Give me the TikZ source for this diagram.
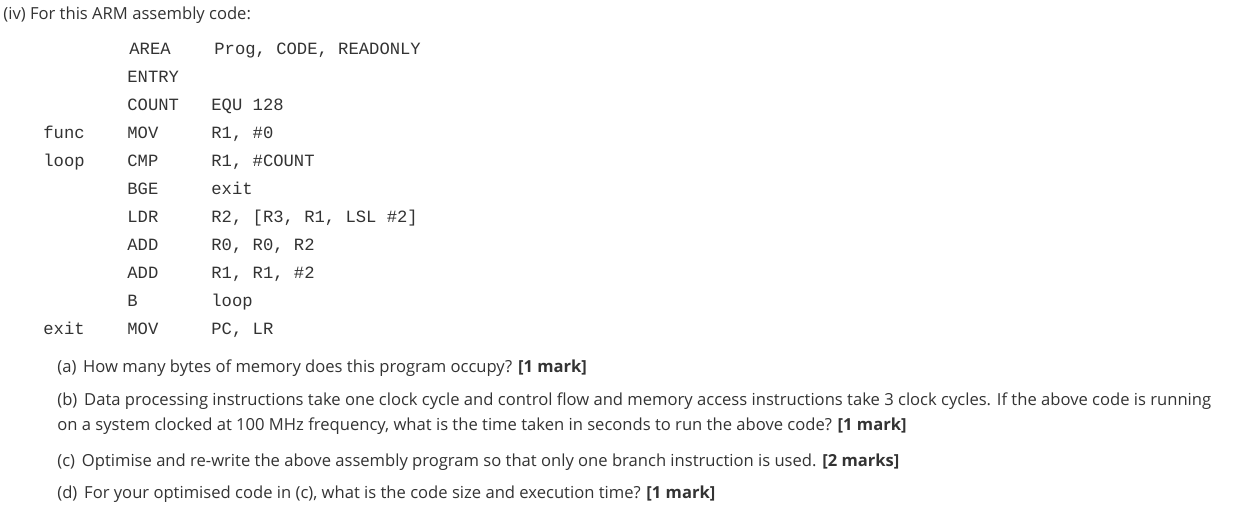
\documentclass[tikz,border=0pt]{standalone}
\usepackage{fontspec}
\setmainfont{Open Sans}
\setmonofont{Liberation Mono}
\definecolor{txt}{HTML}{333333}
\begin{document}
\begin{tikzpicture}[x=0.5pt,y=-0.5pt,
  body/.style={anchor=base west,inner sep=0pt,text=txt,font=\fontsize{8.3pt}{10pt}\selectfont},
  code/.style={anchor=base west,inner sep=0pt,text=txt,font=\ttfamily\fontsize{8.6pt}{9pt}\selectfont}]
\useasboundingbox[fill=white] (0,0) rectangle (1249,512);
\node[body] (t) at (3,20) {(iv) For this ARM assembly code:};
% code rows
\node[code] (m1) at (129,55) {AREA};  \node[code] (o1) at (214,55) {Prog, CODE, READONLY};
\node[code] (m2) at (127,83) {ENTRY};
\node[code] (m3) at (127,111) {COUNT}; \node[code] (o3) at (211,111) {EQU 128};
\node[code] (l4) at (43,139) {func}; \node[code] (m4) at (127,139) {MOV}; \node[code] (o4) at (211,139) {R1, \#0};
\node[code] (l5) at (43,167) {loop}; \node[code] (m5) at (127,167) {CMP}; \node[code] (o5) at (211,167) {R1, \#COUNT};
\node[code] (m6) at (127,195) {BGE}; \node[code] (o6) at (211,195) {exit};
\node[code] (m7) at (127,223) {LDR}; \node[code] (o7) at (211,223) {R2, [R3, R1, LSL \#2]};
\node[code] (m8) at (127,251) {ADD}; \node[code] (o8) at (211,251) {R0, R0, R2};
\node[code] (m9) at (127,279) {ADD}; \node[code] (o9) at (211,279) {R1, R1, \#2};
\node[code] (m10) at (127,307) {B}; \node[code] (o10) at (211,307) {loop};
\node[code] (l11) at (43,335) {exit}; \node[code] (m11) at (127,335) {MOV}; \node[code] (o11) at (211,335) {PC, LR};
% questions
\node[body] (qa) at (57,373) {(a)\hspace{0.15em} How many bytes of memory does this program occupy? \textbf{[1 mark]}};
\node[body] (qb) at (57,406) {(b)\hspace{0.15em} Data processing instructions take one clock cycle and control flow and memory access instructions take 3 clock cycles. If the above code is running};
\node[body] (qb2) at (57,431) {on a system clocked at 100 MHz frequency, what is the time taken in seconds to run the above code? \textbf{[1 mark]}};
\node[body] (qc) at (57,467) {(c)\hspace{0.15em} Optimise and re-write the above assembly program so that only one branch instruction is used. \textbf{[2 marks]}};
\node[body] (qd) at (57,499) {(d)\hspace{0.15em} For your optimised code in (c), what is the code size and execution time? \textbf{[1 mark]}};
\end{tikzpicture}
\end{document}
